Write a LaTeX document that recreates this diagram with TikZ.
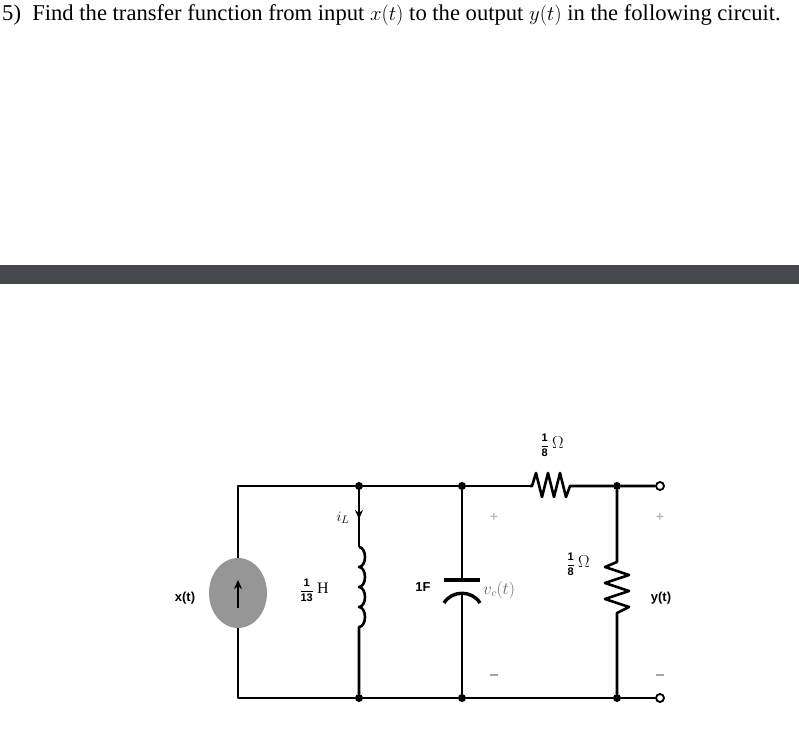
\documentclass[tikz,border=0pt]{standalone}
\usepackage{fontspec}
\setmainfont{Liberation Serif}
\setsansfont{Liberation Sans}
\usetikzlibrary{arrows.meta,shapes.geometric}
\newcommand{\myfr}[2]{$\displaystyle\frac{\textsf{\textbf{#1}}}{\textsf{\textbf{#2}}}$}
\begin{document}
\begin{tikzpicture}[x=1pt,y=-1pt,
  wire/.style={line width=2.6pt,black,line join=round},
  dotn/.style={circle,fill=black,inner sep=0pt,minimum size=8pt},
  term/.style={circle,draw=black,fill=white,line width=1.8pt,inner sep=0pt,minimum size=8pt},
  lbl/.style={font=\sffamily\bfseries\fontsize{13}{15}\selectfont,inner sep=0pt},
  pm/.style={text=gray!70,font=\sffamily\fontsize{14}{15}\selectfont,inner sep=0pt}]
\useasboundingbox (0,0) rectangle (799,735);
\node[anchor=west,inner sep=0pt,font=\fontsize{22.6}{26}\selectfont] (title) at (2,15)
 {5)\ \ Find the transfer function from input $x(t)$ to the output $y(t)$ in the following circuit.};
\fill[color={rgb,255:red,69;green,73;blue,77}] (0,265) rectangle (799,284);
% nodes
\coordinate (tl) at (238,486); \coordinate (bl) at (238,698);
\node[dotn] (nLt) at (359,486) {}; \node[dotn] (nLb) at (359,698) {};
\node[dotn] (nCt) at (462,486) {}; \node[dotn] (nCb) at (462,698) {};
\node[dotn] (nRt) at (617,486) {}; \node[dotn] (nRb) at (617,698) {};
\node[term] (ot) at (660,486) {}; \node[term] (ob) at (660,698) {};
% source
\node[ellipse,fill={rgb,255:red,150;green,150;blue,150},minimum width=58pt,minimum height=70pt,inner sep=0pt] (src) at (238,593) {};
\draw[line width=2pt,-{Stealth[length=9pt,width=8pt]}] (238,608) -- (238,580);
\draw[wire] (src.north) -- (tl) -- (nLt) -- (nCt) -- (530,486);
\draw[wire] (src.south) -- (bl) -- (nLb) -- (nCb) -- (nRb) -- (ob);
% series resistor
\draw[wire] (530,486) -- (532,486) -- (536,473) -- (542,497) -- (548,473) -- (554,497) -- (560,473) -- (566,497) -- (570,486) -- (573,486) -- (nRt) -- (ot);
% inductor
\draw[wire] (nLt) -- (359,547);
\draw[wire,-{Stealth[length=9pt,width=8pt]}] (359,486) -- (359,519);
\draw[wire] (359,547)
  arc (-90:90:6 and 10) arc (-90:90:6 and 10) arc (-90:90:6 and 10) arc (-90:90:6 and 10)
  -- (nLb);
% capacitor
\draw[wire] (nCt) -- (462,580);
\draw[line width=4pt] (444,580) -- (480,580);
\draw[line width=3.4pt] (444,603) .. controls (452,590) and (472,590) .. (480,603);
\draw[wire] (462,593) -- (nCb);
% shunt resistor
\draw[wire] (nRt) -- (617,562) -- (605,567) -- (629,575) -- (605,583) -- (629,591) -- (605,599) -- (629,607) -- (617,613) -- (nRb);
% labels
\node[lbl] (lx) at (185,598) {x(t)};
\node[lbl] (ly) at (661,598) {y(t)};
\node[lbl] (l1f) at (423,587) {1F};
\node[inner sep=0pt,font=\fontsize{15}{16}\selectfont] (liL) at (343,518) {$i_L$};
\node[inner sep=0pt] (lH) at (314,590) {\sffamily\bfseries\fontsize{11}{13}\selectfont\myfr{1}{13}\ \rmfamily\mdseries\fontsize{16}{16}\selectfont H};
\node[inner sep=0pt] (lR1) at (552,445) {\sffamily\bfseries\fontsize{11}{13}\selectfont\myfr{1}{8}\ \rmfamily\mdseries\fontsize{16}{16}\selectfont$\Omega$};
\node[inner sep=0pt] (lR2) at (578,564) {\sffamily\bfseries\fontsize{11}{13}\selectfont\myfr{1}{8}\ \rmfamily\mdseries\fontsize{16}{16}\selectfont$\Omega$};
\node[inner sep=0pt,text=gray!80!black,font=\fontsize{16}{16}\selectfont] (lvc) at (499,590) {$v_c(t)$};
\node[pm] (p1) at (494,517) {+}; \node[pm] (m1) at (494,675) {\rule{8pt}{1.2pt}};
\node[pm] (p2) at (660,517) {+}; \node[pm] (m2) at (660,675) {\rule{8pt}{1.2pt}};
\end{tikzpicture}
\end{document}
